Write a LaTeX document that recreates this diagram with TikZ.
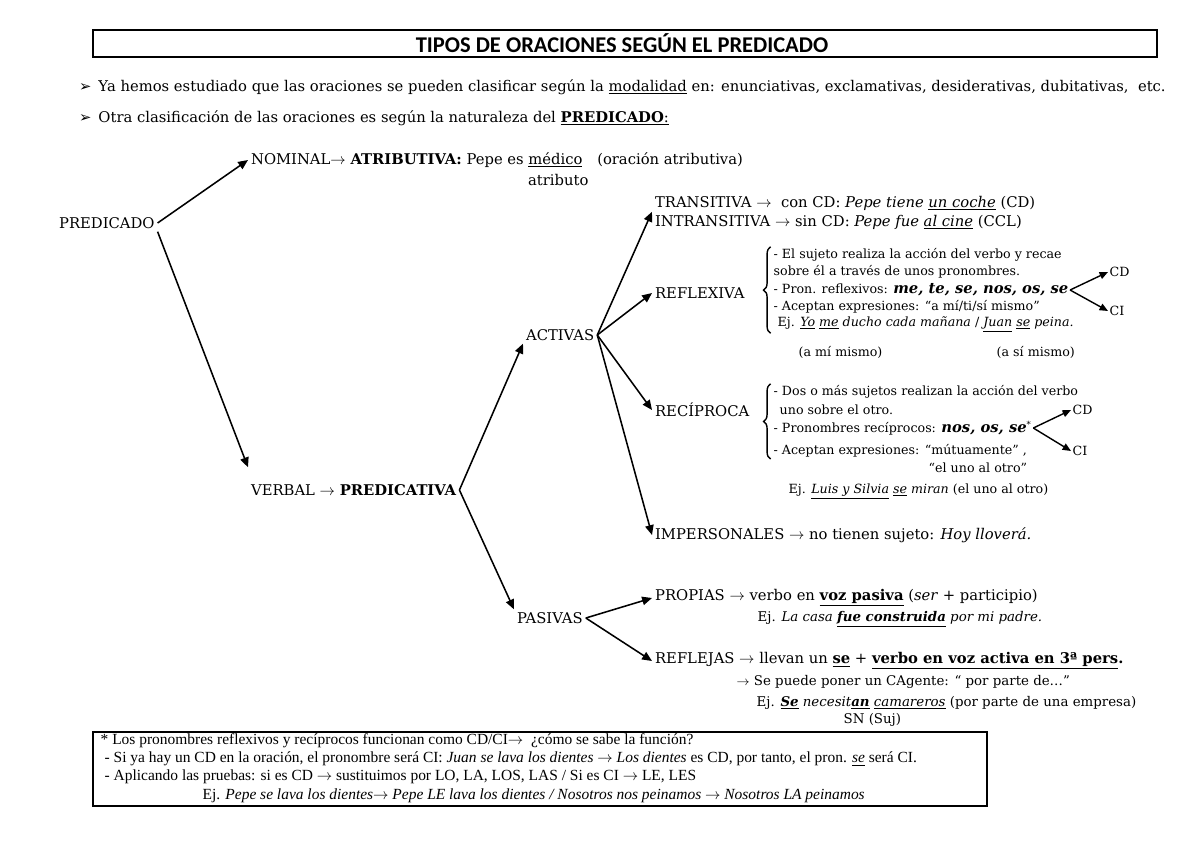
\documentclass[tikz,border=0pt]{standalone}
\usepackage{fontspec}
\setmainfont{DejaVu Serif}
\newfontfamily\titlefont{Carlito}
\newfontfamily\notefont{Liberation Serif}
\newfontfamily\bulfont{DejaVu Sans}
\usetikzlibrary{arrows.meta,decorations.pathreplacing}
\newcommand{\flecha}{\ensuremath{\rightarrow}}
\newcommand{\pron}[1]{{\fontsize{10.5}{10}\selectfont\textbf{\textit{#1}}}}
\tikzset{
  txt/.style={anchor=west,inner sep=2pt,font=\fontsize{10.5}{12}\selectfont},
  sub/.style={anchor=west,inner sep=1pt,font=\fontsize{9.5}{11}\selectfont},
  blk/.style={anchor=west,inner sep=1pt,font=\fontsize{9}{10}\selectfont},
  note/.style={anchor=west,inner sep=1pt,font=\notefont\fontsize{11}{12}\selectfont},
  arr/.style={line width=1.1pt,-{Triangle[length=7pt,width=6pt]}},
  thin arr/.style={line width=1pt,-{Triangle[length=6pt,width=5pt]}},
  brc/.style={decorate,decoration={brace,amplitude=5pt},line width=1pt}
}
\begin{document}
\begin{tikzpicture}[x=0.025cm,y=-0.025cm]
                \useasboundingbox (0,0) rectangle (1200,848);
                %% title
                \draw[line width=1pt] (93,30) rectangle (1157,57);
                \node[font=\titlefont\bfseries\fontsize{16}{18}\selectfont] (title) at (622,43) {TIPOS DE ORACIONES SEGÚN EL PREDICADO};
                %% bullets
                \node[txt] (b1) at (76,87) {{\bulfont ➢}\hspace{5pt}Ya hemos estudiado que las oraciones se pueden clasificar según la \underline{modalidad} en: enunciativas, exclamativas, desiderativas, dubitativas,\ \ etc.};
                \node[txt] (b2) at (76,118) {{\bulfont ➢}\hspace{5pt}Otra clasificación de las oraciones es según la naturaleza del \underline{\textbf{PREDICADO}:}};
                %% predicado
                \node[txt] (pred) at (56,223) {PREDICADO};
                \node[txt] (nom) at (248,160) {NOMINAL\flecha\ \textbf{ATRIBUTIVA:} Pepe es \underline{médico}\quad (oración atributiva)};
                \node[txt] (atrib) at (525,180) {atributo};
                \node[txt] (verb) at (248,490) {VERBAL \flecha\ \textbf{PREDICATIVA}};
                \node[txt] (act) at (523,335) {ACTIVAS};
                \node[txt] (pas) at (514,618) {PASIVAS};
                %% activas
                \node[txt] (trans) at (652,203) {TRANSITIVA \flecha\ \ con CD: \textit{Pepe tiene \underline{un coche}} (CD)};
                \node[txt] (intrans) at (652,222) {INTRANSITIVA \flecha\ sin CD: \textit{Pepe fue \underline{al cine}} (CCL)};
                \node[txt] (refl) at (652,293) {REFLEXIVA};
                \node[txt] (recip) at (652,410) {RECÍPROCA};
                \node[txt] (imper) at (652,535) {IMPERSONALES \flecha\ no tienen sujeto: \textit{Hoy lloverá.}};
                %% reflexiva
                \node[blk] (rf1) at (772,255) {- El sujeto realiza la acción del verbo y recae};
                \node[blk] (rf2) at (772,272) {sobre él a través de unos pronombres.};
                \node[blk] (rf3) at (772,290) {- Pron. reflexivos: \pron{me, te, se, nos, os, se}};
                \node[blk] (rf4) at (772,307) {- Aceptan expresiones: “a mí/ti/sí mismo”};
                \node[blk] (rf5) at (772,324) {\ Ej. \textit{\underline{Yo} \underline{me} ducho cada mañana} / \textit{\underline{Juan} \underline{se} peina.}};
                \node[blk] (rf6) at (797,352) {(a mí mismo)};
                \node[blk] (rf7) at (995,352) {(a sí mismo)};
                \node[blk] (cd1) at (1108,272) {CD};
                \node[blk] (ci1) at (1108,311) {CI};
                \draw[brc] ([xshift=-1pt]rf5.south west) -- ([xshift=-1pt]rf1.north west);
                \draw[thin arr] (rf3.east) -- (cd1.west);
                \draw[thin arr] (rf3.east) -- (ci1.west);
                %% reciproca
                \node[blk] (rc1) at (772,392) {- Dos o más sujetos realizan la acción del verbo};
                \node[blk] (rc2) at (778,410) {uno sobre el otro.};
                \node[blk] (rc3) at (772,428) {- Pronombres recíprocos: \pron{nos, os, se}\textsuperscript{*}};
                \node[blk] (rc4) at (772,451) {- Aceptan expresiones: “mútuamente” ,};
                \node[blk] (rc5) at (927,468) {“el uno al otro”};
                \node[blk] (rc6) at (787,491) {Ej. \textit{\underline{Luis y Silvia} \underline{se} miran} (el uno al otro)};
                \node[blk] (cd2) at (1071,410) {CD};
                \node[blk] (ci2) at (1071,451) {CI};
                \draw[brc] ([xshift=-1pt]rc4.south west) -- ([xshift=-1pt]rc1.north west);
                \draw[thin arr] (rc3.east) -- (cd2.west);
                \draw[thin arr] (rc3.east) -- (ci2.west);
                %% pasivas
                \node[txt] (prop) at (652,598) {PROPIAS \flecha\ verbo en \underline{\textbf{voz pasiva}} (\textit{ser} + participio)};
                \node[sub] (prop2) at (756,619) {Ej. \textit{La casa \underline{\textbf{fue construida}} por mi padre.}};
                \node[txt] (refj) at (652,661) {REFLEJAS \flecha\ llevan un \underline{\textbf{se}} + \underline{\textbf{verbo en voz activa en 3ª pers}}\textbf{.}};
                \node[sub] (refj2) at (735,682) {\flecha\ Se puede poner un CAgente: “ por parte de…”};
                \node[sub] (refj3) at (755,703) {Ej. \textit{\underline{\textbf{Se}} necesit\underline{\textbf{an}} \underline{camareros}} (por parte de una empresa)};
                \node[sub] (sn) at (842,720) {SN (Suj)};
                %% arrows
                \draw[arr] (pred.east) -- (nom.west);
                \draw[arr] (pred.south east) -- ([yshift=10pt]verb.north west);
                \draw[arr] (verb.east) -- (act.south west);
                \draw[arr] (verb.east) -- (pas.north west);
                \draw[arr] (act.east) -- (intrans.north west);
                \draw[arr] (act.east) -- (refl.west);
                \draw[arr] (act.east) -- (recip.west);
                \draw[arr] (act.east) -- (imper.west);
                \draw[arr] (pas.east) -- (prop.west);
                \draw[arr] (pas.east) -- (refj.west);
                %% note box
                \draw[line width=1pt] (93,732) rectangle (987,806);
                \node[note] (n1) at (99,741) {* Los pronombres reflexivos y recíprocos funcionan como CD/CI\flecha\ \ ¿cómo se sabe la función?};
                \node[note] (n2) at (103,759) {- Si ya hay un CD en la oración, el pronombre será CI: \textit{Juan se lava los dientes} \flecha\ \textit{Los dientes} es CD, por tanto, el pron. \underline{\textit{se}} será CI.};
                \node[note] (n3) at (103,777) {- Aplicando las pruebas: si es CD \flecha\ sustituimos por LO, LA, LOS, LAS / Si es CI \flecha\ LE, LES};
                \node[note] (n4) at (201,796) {Ej. \textit{Pepe se lava los dientes\flecha\ Pepe LE lava los dientes / Nosotros nos peinamos \flecha\ Nosotros LA peinamos}};
\end{tikzpicture}
\end{document}
